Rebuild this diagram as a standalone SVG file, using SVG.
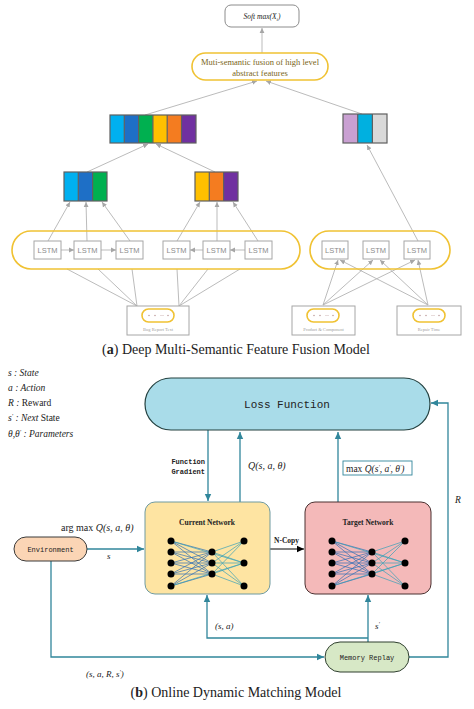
<svg xmlns="http://www.w3.org/2000/svg" width="474" height="709" viewBox="0 0 474 709">
<defs>
<style>
.gl{stroke:#b3b3b3;stroke-width:0.9;fill:none}
.tl{stroke:#31869b;stroke-width:1.3;fill:none}
.gbox{fill:#fff;stroke:#a6a6a6;stroke-width:1}
.ypill{fill:none;stroke:#f0c233;stroke-width:1.6}
.blk{stroke:#5f5f5f;stroke-width:1.2}
.lstm{font-family:"Liberation Sans",Arial,sans-serif;font-size:7.5px;fill:#8c8c8c;text-anchor:middle}
.tiny{font-family:"Liberation Serif",serif;font-size:4.5px;fill:#a0a0a0;text-anchor:middle}
.mono{font-family:"Liberation Mono","DejaVu Sans Mono",monospace;fill:#222;text-anchor:middle}
.ser{font-family:"Liberation Serif","Times New Roman",serif;fill:#222}
.node{fill:#000}
.e1{stroke:#2f6fb5;stroke-width:0.7}
.e2{stroke:#3aa0b8;stroke-width:0.7}
</style>
<marker id="ag" markerUnits="userSpaceOnUse" markerWidth="6" markerHeight="6" refX="5" refY="3" orient="auto"><path d="M0,0.6 L5,3 L0,5.4 Z" fill="#a6a6a6"/></marker>
<marker id="at" markerUnits="userSpaceOnUse" markerWidth="8" markerHeight="8" refX="7" refY="4" orient="auto"><path d="M0,0.8 L7,4 L0,7.2 Z" fill="#31869b"/></marker>
<marker id="ab" markerUnits="userSpaceOnUse" markerWidth="8" markerHeight="8" refX="7" refY="4" orient="auto"><path d="M0,0.8 L7,4 L0,7.2 Z" fill="#000"/></marker>
</defs>
<rect width="474" height="709" fill="#fff"/>

<!-- ===== Part (a) ===== -->
<g id="connectors-a">
<line class="gl" x1="262" y1="53" x2="262" y2="28" marker-end="url(#ag)"/>
<line class="gl" x1="145" y1="115" x2="257" y2="81" marker-end="url(#ag)"/>
<line class="gl" x1="362" y1="114" x2="266" y2="81" marker-end="url(#ag)"/>
<line class="gl" x1="87" y1="172" x2="148" y2="144" marker-end="url(#ag)"/>
<line class="gl" x1="215" y1="172" x2="156" y2="144" marker-end="url(#ag)"/>
<line class="gl" x1="48" y1="241" x2="70" y2="202" marker-end="url(#ag)"/>
<line class="gl" x1="87" y1="241" x2="86" y2="202" marker-end="url(#ag)"/>
<line class="gl" x1="130" y1="241" x2="102" y2="202" marker-end="url(#ag)"/>
<line class="gl" x1="177" y1="241" x2="200" y2="202" marker-end="url(#ag)"/>
<line class="gl" x1="217" y1="241" x2="217" y2="202" marker-end="url(#ag)"/>
<line class="gl" x1="258" y1="241" x2="233" y2="202" marker-end="url(#ag)"/>
<line class="gl" x1="418" y1="241" x2="367" y2="145" marker-end="url(#ag)"/>
<line class="gl" x1="61" y1="250" x2="74" y2="250" marker-end="url(#ag)"/>
<line class="gl" x1="101" y1="250" x2="116" y2="250" marker-end="url(#ag)"/>
<line class="gl" x1="203" y1="250" x2="190" y2="250" marker-end="url(#ag)"/>
<line class="gl" x1="245" y1="250" x2="230" y2="250" marker-end="url(#ag)"/>
<line class="gl" x1="137" y1="306" x2="67" y2="269"/>
<line class="gl" x1="137" y1="306" x2="98" y2="269"/>
<line class="gl" x1="137" y1="306" x2="132" y2="269"/>
<line class="gl" x1="179" y1="306" x2="177" y2="269"/>
<line class="gl" x1="179" y1="306" x2="208" y2="269"/>
<line class="gl" x1="179" y1="306" x2="240" y2="269"/>
<line class="gl" x1="323" y1="305" x2="338" y2="260" marker-end="url(#ag)"/>
<line class="gl" x1="323" y1="305" x2="373" y2="260" marker-end="url(#ag)"/>
<line class="gl" x1="323" y1="305" x2="415" y2="260" marker-end="url(#ag)"/>
<line class="gl" x1="428" y1="305" x2="340" y2="260" marker-end="url(#ag)"/>
<line class="gl" x1="428" y1="305" x2="380" y2="260" marker-end="url(#ag)"/>
<line class="gl" x1="428" y1="305" x2="418" y2="260" marker-end="url(#ag)"/>
</g>

<g id="softmax">
<rect x="225" y="5" width="74" height="22" rx="6" fill="#fff" stroke="#8c8c8c" stroke-width="1"/>
<text x="262" y="19" class="ser" font-size="7.5" font-style="italic" text-anchor="middle">Soft max(X<tspan font-size="5" dy="1.5">i</tspan><tspan dy="-1.5">)</tspan></text>
</g>

<g id="fusion">
<rect x="192" y="53" width="136" height="27" rx="13.5" fill="#fff" stroke="#f0c233" stroke-width="1.6"/>
<text x="260" y="65" class="ser" font-size="8.5" fill="#7a6520" text-anchor="middle" style="fill:#7a6520">Muti-semantic fusion of high level</text>
<text x="260" y="76" class="ser" font-size="8.5" text-anchor="middle" style="fill:#7a6520">abstract features</text>
</g>

<g id="block-all">
<rect x="110" y="115" width="14.3" height="28" fill="#00b0f0"/>
<rect x="124.3" y="115" width="14.3" height="28" fill="#1e6fc6"/>
<rect x="138.6" y="115" width="14.3" height="28" fill="#00b050"/>
<rect x="152.9" y="115" width="14.3" height="28" fill="#ffc000"/>
<rect x="167.2" y="115" width="14.3" height="28" fill="#f47c20"/>
<rect x="181.5" y="115" width="14.5" height="28" fill="#7030a0"/>
<g class="blk" fill="none"><rect x="110" y="115" width="86" height="28"/><line x1="124.3" y1="115" x2="124.3" y2="143"/><line x1="138.6" y1="115" x2="138.6" y2="143"/><line x1="152.9" y1="115" x2="152.9" y2="143"/><line x1="167.2" y1="115" x2="167.2" y2="143"/><line x1="181.5" y1="115" x2="181.5" y2="143"/></g>
</g>

<g id="block-right">
<rect x="343" y="114" width="14.7" height="29" fill="#c9a0d2"/>
<rect x="357.7" y="114" width="14.7" height="29" fill="#00b0e0"/>
<rect x="372.4" y="114" width="14.6" height="29" fill="#d9d9d9"/>
<g class="blk" fill="none"><rect x="343" y="114" width="44" height="29"/><line x1="357.7" y1="114" x2="357.7" y2="143"/><line x1="372.4" y1="114" x2="372.4" y2="143"/></g>
</g>

<g id="block-left2">
<rect x="64" y="172" width="14.3" height="29" fill="#00b0f0"/>
<rect x="78.3" y="172" width="14.3" height="29" fill="#1e6fc6"/>
<rect x="92.6" y="172" width="14.4" height="29" fill="#00b050"/>
<g class="blk" fill="none"><rect x="64" y="172" width="43" height="29"/><line x1="78.3" y1="172" x2="78.3" y2="201"/><line x1="92.6" y1="172" x2="92.6" y2="201"/></g>
</g>

<g id="block-right2">
<rect x="195" y="172" width="14.3" height="29" fill="#ffc000"/>
<rect x="209.3" y="172" width="14.3" height="29" fill="#f47c20"/>
<rect x="223.6" y="172" width="14.4" height="29" fill="#7030a0"/>
<g class="blk" fill="none"><rect x="195" y="172" width="43" height="29"/><line x1="209.3" y1="172" x2="209.3" y2="201"/><line x1="223.6" y1="172" x2="223.6" y2="201"/></g>
</g>

<g id="lstm-group-left">
<rect class="ypill" x="12" y="231" width="288" height="38" rx="19"/>
<rect class="gbox" x="34" y="241" width="27" height="18"/><text class="lstm" x="47.5" y="253">LSTM</text>
<rect class="gbox" x="74" y="241" width="27" height="18"/><text class="lstm" x="87.5" y="253">LSTM</text>
<rect class="gbox" x="116" y="241" width="27" height="18"/><text class="lstm" x="129.5" y="253">LSTM</text>
<rect class="gbox" x="163" y="241" width="27" height="18"/><text class="lstm" x="176.5" y="253">LSTM</text>
<rect class="gbox" x="203" y="241" width="27" height="18"/><text class="lstm" x="216.5" y="253">LSTM</text>
<rect class="gbox" x="245" y="241" width="27" height="18"/><text class="lstm" x="258.5" y="253">LSTM</text>
</g>

<g id="lstm-group-right">
<rect class="ypill" x="310" y="231" width="140" height="38" rx="19"/>
<rect class="gbox" x="322" y="241" width="26" height="18"/><text class="lstm" x="335" y="253">LSTM</text>
<rect class="gbox" x="363" y="241" width="26" height="18"/><text class="lstm" x="376" y="253">LSTM</text>
<rect class="gbox" x="404" y="241" width="26" height="18"/><text class="lstm" x="417" y="253">LSTM</text>
</g>

<g id="bug-report">
<rect class="gbox" x="127" y="306" width="62" height="29"/>
<rect class="ypill" x="142" y="309" width="32" height="13" rx="6.5"/>
<g fill="#c0a0a0"><circle cx="149" cy="315.5" r="0.8"/><circle cx="155" cy="315.5" r="0.8"/><circle cx="161" cy="315.5" r="0.5"/><circle cx="163" cy="315.5" r="0.5"/><circle cx="168" cy="315.5" r="0.8"/></g>
<text class="tiny" x="158" y="331">Bug Report Text</text>
</g>

<g id="product">
<rect class="gbox" x="292" y="306" width="63" height="29"/>
<rect class="ypill" x="307" y="309" width="32" height="13" rx="6.5"/>
<g fill="#c0a0a0"><circle cx="314" cy="315.5" r="0.8"/><circle cx="320" cy="315.5" r="0.8"/><circle cx="326" cy="315.5" r="0.5"/><circle cx="328" cy="315.5" r="0.5"/><circle cx="333" cy="315.5" r="0.8"/></g>
<text class="tiny" x="323.5" y="331">Product &amp; Component</text>
</g>

<g id="repair">
<rect class="gbox" x="397" y="306" width="64" height="29"/>
<rect class="ypill" x="413" y="309" width="32" height="13" rx="6.5"/>
<g fill="#c0a0a0"><circle cx="420" cy="315.5" r="0.8"/><circle cx="426" cy="315.5" r="0.8"/><circle cx="432" cy="315.5" r="0.5"/><circle cx="434" cy="315.5" r="0.5"/><circle cx="439" cy="315.5" r="0.8"/></g>
<text class="tiny" x="429" y="331">Repair Time</text>
</g>

<text id="caption-a" x="236" y="354" class="ser" font-size="14" text-anchor="middle">(<tspan font-weight="bold">a</tspan>) Deep Multi-Semantic Feature Fusion Model</text>

<!-- ===== Part (b) ===== -->
<g id="legend" class="ser" font-size="9.5" font-style="italic">
<text x="8" y="376">s : State</text>
<text x="8" y="391">a : Action</text>
<text x="8" y="406">R : <tspan font-style="normal">Reward</tspan></text>
<text x="8" y="421">s<tspan font-size="6" dy="-3">'</tspan><tspan dy="3"> : Next </tspan><tspan font-style="normal">State</tspan></text>
<text x="8" y="437">θ,θ<tspan font-size="6" dy="-3">'</tspan><tspan dy="3"> : Parameters</tspan></text>
</g>

<g id="connectors-b">
<line class="tl" x1="208" y1="430" x2="208" y2="501" marker-end="url(#at)"/>
<line class="tl" x1="240" y1="502" x2="240" y2="432" marker-end="url(#at)"/>
<line class="tl" x1="338" y1="502" x2="338" y2="432" marker-end="url(#at)"/>
<polyline class="tl" points="409,657 448,657 448,403 431,403" marker-end="url(#at)"/>
<line class="tl" x1="87" y1="549" x2="144" y2="549" marker-end="url(#at)"/>
<polyline class="tl" points="51,561 51,657 324,657" marker-end="url(#at)"/>
<line class="tl" x1="368" y1="642" x2="368" y2="595" marker-end="url(#at)"/>
<polyline class="tl" points="368,638 207,638 207,595" marker-end="url(#at)"/>
<line x1="270" y1="549" x2="304" y2="549" stroke="#000" stroke-width="1" marker-end="url(#ab)"/>
</g>

<g id="connector-labels" class="ser">
<text class="mono" x="205" y="464" font-size="7" font-weight="bold" style="text-anchor:end">Function</text>
<text class="mono" x="205" y="474" font-size="7" font-weight="bold" style="text-anchor:end">Gradient</text>
<text x="248" y="469" font-size="10" font-style="italic">Q(s, a, θ)</text>
<rect x="343" y="461" width="69" height="14" fill="#fff" stroke="#31869b" stroke-width="0.9"/>
<text x="346" y="471.5" font-size="9.5">max<tspan font-style="italic"> Q(s<tspan font-size="6" dy="-3">'</tspan><tspan dy="3">, a</tspan><tspan font-size="6" dy="-3">'</tspan><tspan dy="3">, θ</tspan><tspan font-size="6" dy="-3">'</tspan><tspan dy="3">)</tspan></tspan></text>
<text x="455" y="503" font-size="9.5" font-style="italic">R</text>
<text x="61" y="531" font-size="10">arg max <tspan font-style="italic">Q(s, a, θ)</tspan></text>
<text x="107" y="559" font-size="9" font-style="italic">s</text>
<text x="274" y="543" font-size="7.5" font-weight="bold">N-Copy</text>
<text x="215" y="629" font-size="9" font-style="italic">(s, a)</text>
<text x="375" y="629" font-size="9" font-style="italic">s<tspan font-size="6" dy="-3">'</tspan></text>
<text x="86" y="677" font-size="9" font-style="italic">(s, a, R, s<tspan font-size="6" dy="-3">'</tspan><tspan dy="3">)</tspan></text>
</g>

<g id="loss-function">
<rect x="145" y="378" width="285" height="52" rx="26" fill="#a9dce9" stroke="#23403f" stroke-width="1.2"/>
<text class="mono" x="287" y="408" font-size="11">Loss Function</text>
</g>

<g id="environment">
<rect x="14" y="537" width="73" height="24" rx="12" fill="#fbd5b5" stroke="#3a3a3a" stroke-width="1"/>
<text class="mono" x="50.5" y="551.5" font-size="7">Environment</text>
</g>

<g id="memory-replay">
<rect x="325" y="642" width="84" height="30" rx="15" fill="#d7e8c6" stroke="#2f3f2f" stroke-width="1"/>
<text class="mono" x="367" y="660" font-size="7">Memory Replay</text>
</g>

<g id="current-network">
<rect x="145" y="502" width="125" height="92" rx="10" fill="#fee4a2" stroke="#6f9aa0" stroke-width="1"/>
<text x="207" y="525" class="ser" font-size="7.5" font-weight="bold" text-anchor="middle">Current Network</text>
<g class="e1">
<path d="M171,541L212,552M171,541L212,563M171,541L212,574M171,552L212,552M171,552L212,563M171,552L212,574M171,563L212,552M171,563L212,563M171,563L212,574M171,574L212,552M171,574L212,563M171,574L212,574M171,586L212,552M171,586L212,563M171,586L212,574"/>
</g>
<g class="e2">
<path d="M212,552L244,541M212,552L244,563M212,552L244,586M212,563L244,541M212,563L244,563M212,563L244,586M212,574L244,541M212,574L244,563M212,574L244,586M171,541L244,563M171,586L244,563"/>
</g>
<g class="node">
<circle cx="171" cy="541" r="3.5"/><circle cx="171" cy="552" r="3.5"/><circle cx="171" cy="563" r="3.5"/><circle cx="171" cy="574" r="3.5"/><circle cx="171" cy="586" r="3.5"/>
<circle cx="212" cy="552" r="3.5"/><circle cx="212" cy="563" r="3.5"/><circle cx="212" cy="574" r="3.5"/>
<circle cx="244" cy="541" r="3.5"/><circle cx="244" cy="563" r="3.5"/><circle cx="244" cy="586" r="3.5"/>
</g>
</g>

<g id="target-network">
<rect x="305" y="502" width="126" height="92" rx="10" fill="#f4b9b9" stroke="#4a3030" stroke-width="1"/>
<text x="368" y="525" class="ser" font-size="7.5" font-weight="bold" text-anchor="middle">Target Network</text>
<g class="e1">
<path d="M332,541L372,552M332,541L372,563M332,541L372,574M332,552L372,552M332,552L372,563M332,552L372,574M332,563L372,552M332,563L372,563M332,563L372,574M332,574L372,552M332,574L372,563M332,574L372,574M332,586L372,552M332,586L372,563M332,586L372,574"/>
</g>
<g class="e2">
<path d="M372,552L405,541M372,552L405,563M372,552L405,586M372,563L405,541M372,563L405,563M372,563L405,586M372,574L405,541M372,574L405,563M372,574L405,586M332,541L405,563M332,586L405,563"/>
</g>
<g class="node">
<circle cx="332" cy="541" r="3.5"/><circle cx="332" cy="552" r="3.5"/><circle cx="332" cy="563" r="3.5"/><circle cx="332" cy="574" r="3.5"/><circle cx="332" cy="586" r="3.5"/>
<circle cx="372" cy="552" r="3.5"/><circle cx="372" cy="563" r="3.5"/><circle cx="372" cy="574" r="3.5"/>
<circle cx="405" cy="541" r="3.5"/><circle cx="405" cy="563" r="3.5"/><circle cx="405" cy="586" r="3.5"/>
</g>
</g>

<text id="caption-b" x="236" y="697" class="ser" font-size="14" text-anchor="middle">(<tspan font-weight="bold">b</tspan>) Online Dynamic Matching Model</text>
</svg>
